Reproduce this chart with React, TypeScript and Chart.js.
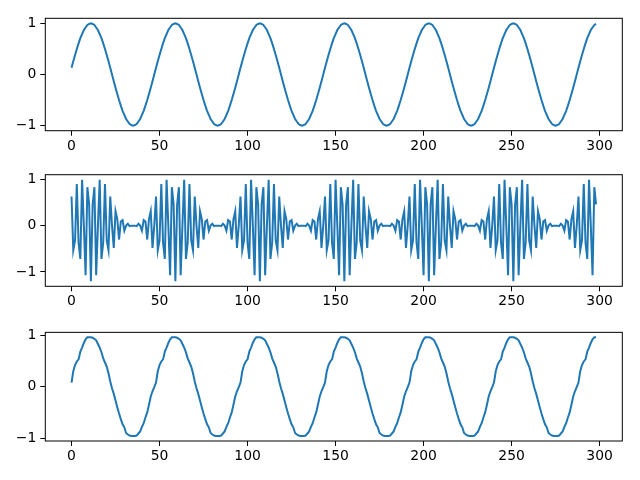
import React, { useEffect, useRef } from 'react';
import { Chart, registerables } from 'chart.js';

Chart.register(...registerables);

// tick positions and their labels (matplotlib uses a real minus sign)
const xTicks = [0, 50, 100, 150, 200, 250, 300];
const yTicks = [-1, 0, 1];
const yTickLabels = ['\u22121', '0', '1'];

// top panel: the slow sine
const sineWave = [
  0.13, 0.26, 0.38, 0.5, 0.61, 0.71, 0.79, 0.87, 0.92, 0.97, 0.99, 1, 0.99, 0.97, 0.92, 0.87, 0.79, 0.71, 0.61, 0.5, 0.38, 0.26, 0.13, 0, -0.13, -0.26, -0.38, -0.5, -0.61, -0.71, -0.79, -0.87, -0.92, -0.97, -0.99, -1, -0.99, -0.97, -0.92, -0.87, -0.79, -0.71, -0.61, -0.5, -0.38, -0.26, -0.13, 0,
  0.13, 0.26, 0.38, 0.5, 0.61, 0.71, 0.79, 0.87, 0.92, 0.97, 0.99, 1, 0.99, 0.97, 0.92, 0.87, 0.79, 0.71, 0.61, 0.5, 0.38, 0.26, 0.13, 0, -0.13, -0.26, -0.38, -0.5, -0.61, -0.71, -0.79, -0.87, -0.92, -0.97, -0.99, -1, -0.99, -0.97, -0.92, -0.87, -0.79, -0.71, -0.61, -0.5, -0.38, -0.26, -0.13, 0,
  0.13, 0.26, 0.38, 0.5, 0.61, 0.71, 0.79, 0.87, 0.92, 0.97, 0.99, 1, 0.99, 0.97, 0.92, 0.87, 0.79, 0.71, 0.61, 0.5, 0.38, 0.26, 0.13, 0, -0.13, -0.26, -0.38, -0.5, -0.61, -0.71, -0.79, -0.87, -0.92, -0.97, -0.99, -1, -0.99, -0.97, -0.92, -0.87, -0.79, -0.71, -0.61, -0.5, -0.38, -0.26, -0.13, 0,
  0.13, 0.26, 0.38, 0.5, 0.61, 0.71, 0.79, 0.87, 0.92, 0.97, 0.99, 1, 0.99, 0.97, 0.92, 0.87, 0.79, 0.71, 0.61, 0.5, 0.38, 0.26, 0.13, 0, -0.13, -0.26, -0.38, -0.5, -0.61, -0.71, -0.79, -0.87, -0.92, -0.97, -0.99, -1, -0.99, -0.97, -0.92, -0.87, -0.79, -0.71, -0.61, -0.5, -0.38, -0.26, -0.13, 0,
  0.13, 0.26, 0.38, 0.5, 0.61, 0.71, 0.79, 0.87, 0.92, 0.97, 0.99, 1, 0.99, 0.97, 0.92, 0.87, 0.79, 0.71, 0.61, 0.5, 0.38, 0.26, 0.13, 0, -0.13, -0.26, -0.38, -0.5, -0.61, -0.71, -0.79, -0.87, -0.92, -0.97, -0.99, -1, -0.99, -0.97, -0.92, -0.87, -0.79, -0.71, -0.61, -0.5, -0.38, -0.26, -0.13, 0,
  0.13, 0.26, 0.38, 0.5, 0.61, 0.71, 0.79, 0.87, 0.92, 0.97, 0.99, 1, 0.99, 0.97, 0.92, 0.87, 0.79, 0.71, 0.61, 0.5, 0.38, 0.26, 0.13, 0, -0.13, -0.26, -0.38, -0.5, -0.61, -0.71, -0.79, -0.87, -0.92, -0.97, -0.99, -1, -0.99, -0.97, -0.92, -0.87, -0.79, -0.71, -0.61, -0.5, -0.38, -0.26, -0.13, 0,
  0.13, 0.26, 0.38, 0.5, 0.61, 0.71, 0.79, 0.87, 0.92, 0.97, 0.99,
];

// middle panel: fast carrier under the slow envelope
const modulated = [
  0.63, -0.53, -0.32, 0.9, -0.37, -0.72, 0.99, 0, -1.07, 0.83, 0.46, -1.2, 0.46, 0.83, -1.07, 0, 0.99, -0.72, -0.37, 0.9, -0.32, -0.53, 0.63, 0, -0.48, 0.31, 0.14, -0.3, 0.09, 0.12, -0.11, 0, 0.04, -0.01, 0, 0, 0, -0.01, 0.04, 0, -0.11, 0.12, 0.09, -0.3, 0.14, 0.31, -0.48, 0,
  0.63, -0.53, -0.32, 0.9, -0.37, -0.72, 0.99, 0, -1.07, 0.83, 0.46, -1.2, 0.46, 0.83, -1.07, 0, 0.99, -0.72, -0.37, 0.9, -0.32, -0.53, 0.63, 0, -0.48, 0.31, 0.14, -0.3, 0.09, 0.12, -0.11, 0, 0.04, -0.01, 0, 0, 0, -0.01, 0.04, 0, -0.11, 0.12, 0.09, -0.3, 0.14, 0.31, -0.48, 0,
  0.63, -0.53, -0.32, 0.9, -0.37, -0.72, 0.99, 0, -1.07, 0.83, 0.46, -1.2, 0.46, 0.83, -1.07, 0, 0.99, -0.72, -0.37, 0.9, -0.32, -0.53, 0.63, 0, -0.48, 0.31, 0.14, -0.3, 0.09, 0.12, -0.11, 0, 0.04, -0.01, 0, 0, 0, -0.01, 0.04, 0, -0.11, 0.12, 0.09, -0.3, 0.14, 0.31, -0.48, 0,
  0.63, -0.53, -0.32, 0.9, -0.37, -0.72, 0.99, 0, -1.07, 0.83, 0.46, -1.2, 0.46, 0.83, -1.07, 0, 0.99, -0.72, -0.37, 0.9, -0.32, -0.53, 0.63, 0, -0.48, 0.31, 0.14, -0.3, 0.09, 0.12, -0.11, 0, 0.04, -0.01, 0, 0, 0, -0.01, 0.04, 0, -0.11, 0.12, 0.09, -0.3, 0.14, 0.31, -0.48, 0,
  0.63, -0.53, -0.32, 0.9, -0.37, -0.72, 0.99, 0, -1.07, 0.83, 0.46, -1.2, 0.46, 0.83, -1.07, 0, 0.99, -0.72, -0.37, 0.9, -0.32, -0.53, 0.63, 0, -0.48, 0.31, 0.14, -0.3, 0.09, 0.12, -0.11, 0, 0.04, -0.01, 0, 0, 0, -0.01, 0.04, 0, -0.11, 0.12, 0.09, -0.3, 0.14, 0.31, -0.48, 0,
  0.63, -0.53, -0.32, 0.9, -0.37, -0.72, 0.99, 0, -1.07, 0.83, 0.46, -1.2, 0.46, 0.83, -1.07, 0, 0.99, -0.72, -0.37, 0.9, -0.32, -0.53, 0.63, 0, -0.48, 0.31, 0.14, -0.3, 0.09, 0.12, -0.11, 0, 0.04, -0.01, 0, 0, 0, -0.01, 0.04, 0, -0.11, 0.12, 0.09, -0.3, 0.14, 0.31, -0.48, 0,
  0.63, -0.53, -0.32, 0.9, -0.37, -0.72, 0.99, 0, -1.07, 0.83, 0.46,
];

// bottom panel: recovered (flattened, slightly ragged) sine
const recovered = [
  0.08, 0.3, 0.42, 0.49, 0.53, 0.68, 0.76, 0.85, 0.92, 0.96, 0.96, 0.96, 0.95, 0.93, 0.9, 0.83, 0.76, 0.67, 0.55, 0.47, 0.39, 0.26, 0.1, -0.03, -0.14, -0.27, -0.4, -0.52, -0.63, -0.73, -0.79, -0.9, -0.93, -0.95, -0.96, -0.96, -0.96, -0.95, -0.91, -0.87, -0.78, -0.71, -0.6, -0.5, -0.35, -0.19, -0.09, -0.01,
  0.08, 0.3, 0.42, 0.49, 0.53, 0.68, 0.76, 0.85, 0.92, 0.96, 0.96, 0.96, 0.95, 0.93, 0.9, 0.83, 0.76, 0.67, 0.55, 0.47, 0.39, 0.26, 0.1, -0.03, -0.14, -0.27, -0.4, -0.52, -0.63, -0.73, -0.79, -0.9, -0.93, -0.95, -0.96, -0.96, -0.96, -0.95, -0.91, -0.87, -0.78, -0.71, -0.6, -0.5, -0.35, -0.19, -0.09, -0.01,
  0.08, 0.3, 0.42, 0.49, 0.53, 0.68, 0.76, 0.85, 0.92, 0.96, 0.96, 0.96, 0.95, 0.93, 0.9, 0.83, 0.76, 0.67, 0.55, 0.47, 0.39, 0.26, 0.1, -0.03, -0.14, -0.27, -0.4, -0.52, -0.63, -0.73, -0.79, -0.9, -0.93, -0.95, -0.96, -0.96, -0.96, -0.95, -0.91, -0.87, -0.78, -0.71, -0.6, -0.5, -0.35, -0.19, -0.09, -0.01,
  0.08, 0.3, 0.42, 0.49, 0.53, 0.68, 0.76, 0.85, 0.92, 0.96, 0.96, 0.96, 0.95, 0.93, 0.9, 0.83, 0.76, 0.67, 0.55, 0.47, 0.39, 0.26, 0.1, -0.03, -0.14, -0.27, -0.4, -0.52, -0.63, -0.73, -0.79, -0.9, -0.93, -0.95, -0.96, -0.96, -0.96, -0.95, -0.91, -0.87, -0.78, -0.71, -0.6, -0.5, -0.35, -0.19, -0.09, -0.01,
  0.08, 0.3, 0.42, 0.49, 0.53, 0.68, 0.76, 0.85, 0.92, 0.96, 0.96, 0.96, 0.95, 0.93, 0.9, 0.83, 0.76, 0.67, 0.55, 0.47, 0.39, 0.26, 0.1, -0.03, -0.14, -0.27, -0.4, -0.52, -0.63, -0.73, -0.79, -0.9, -0.93, -0.95, -0.96, -0.96, -0.96, -0.95, -0.91, -0.87, -0.78, -0.71, -0.6, -0.5, -0.35, -0.19, -0.09, -0.01,
  0.08, 0.3, 0.42, 0.49, 0.53, 0.68, 0.76, 0.85, 0.92, 0.96, 0.96, 0.96, 0.95, 0.93, 0.9, 0.83, 0.76, 0.67, 0.55, 0.47, 0.39, 0.26, 0.1, -0.03, -0.14, -0.27, -0.4, -0.52, -0.63, -0.73, -0.79, -0.9, -0.93, -0.95, -0.96, -0.96, -0.96, -0.95, -0.91, -0.87, -0.78, -0.71, -0.6, -0.5, -0.35, -0.19, -0.09, -0.01,
  0.08, 0.3, 0.42, 0.49, 0.53, 0.68, 0.76, 0.85, 0.92, 0.96, 0.96,
];

const FONT = { family: 'DejaVu Sans', size: 13.9 };
const LINE_COLOR = '#1f77b4';

// black box round the plot area, like matplotlib's four spines
const framePlugin = {
  id: 'frame',
  afterDraw(chart: Chart) {
    const { ctx, chartArea: a } = chart;
    ctx.save();
    ctx.strokeStyle = '#000';
    ctx.lineWidth = 1;
    ctx.strokeRect(a.left, a.top, a.right - a.left, a.bottom - a.top);
    ctx.restore();
  },
};

interface PanelProps {
  values: number[];
  top: number;
  padTop: number;
  axisHeight: number;
}

const Panel: React.FC<PanelProps> = ({ values, top, padTop, axisHeight }) => {
  const canvasRef = useRef<HTMLCanvasElement>(null);

  useEffect(() => {
    if (!canvasRef.current) return;

    // matplotlib-style 5% margins
    const lo = Math.min(...values);
    const hi = Math.max(...values);
    const yPad = (hi - lo) * 0.05;
    const xPad = (values.length - 1) * 0.05;

    const chart = new Chart(canvasRef.current, {
      type: 'line',
      data: {
        datasets: [
          {
            data: values.map((y, i) => ({ x: i, y })),
            borderColor: LINE_COLOR,
            borderWidth: 2,
            pointRadius: 0,
            tension: 0,
            fill: false,
          },
        ],
      },
      options: {
        responsive: false,
        animation: false,
        events: [],
        layout: { padding: { top: padTop, right: 17.7, left: 0, bottom: 0 } },
        plugins: { legend: { display: false }, tooltip: { enabled: false } },
        scales: {
          x: {
            type: 'linear',
            min: -xPad,
            max: values.length - 1 + xPad,
            afterBuildTicks: (axis: any) => {
              axis.ticks = xTicks.map((v) => ({ value: v }));
            },
            afterFit: (axis: any) => {
              axis.height = axisHeight;
            },
            grid: { drawOnChartArea: false, drawTicks: true, tickLength: 5, color: '#000' },
            border: { display: false },
            ticks: {
              color: '#000',
              font: FONT,
              padding: 2,
              maxRotation: 0,
              autoSkip: false,
              callback: (v: any) => String(v),
            },
          },
          y: {
            type: 'linear',
            min: lo - yPad,
            max: hi + yPad,
            afterBuildTicks: (axis: any) => {
              axis.ticks = yTicks.map((v) => ({ value: v }));
            },
            afterFit: (axis: any) => {
              axis.width = 45.3;
            },
            grid: { drawOnChartArea: false, drawTicks: true, tickLength: 5, color: '#000' },
            border: { display: false },
            ticks: {
              color: '#000',
              font: FONT,
              padding: 4,
              autoSkip: false,
              callback: (v: any) => yTickLabels[yTicks.indexOf(v)] ?? '',
            },
          },
        },
      },
      plugins: [framePlugin],
    });

    return () => chart.destroy();
  }, [values, padTop, axisHeight]);

  return (
    <canvas
      ref={canvasRef}
      width={640}
      height={160}
      style={{ position: 'absolute', left: 0, top, width: 640, height: 160 }}
    />
  );
};

export default function App() {
  return (
    <div style={{ position: 'absolute', left: 0, top: 0, width: 640, height: 480, background: '#fff' }}>
      <Panel values={sineWave} top={0} padTop={18.3} axisHeight={29.3} />
      <Panel values={modulated} top={160} padTop={14.7} axisHeight={33.7} />
      <Panel values={recovered} top={320} padTop={9.3} axisHeight={39} />
    </div>
  );
}
